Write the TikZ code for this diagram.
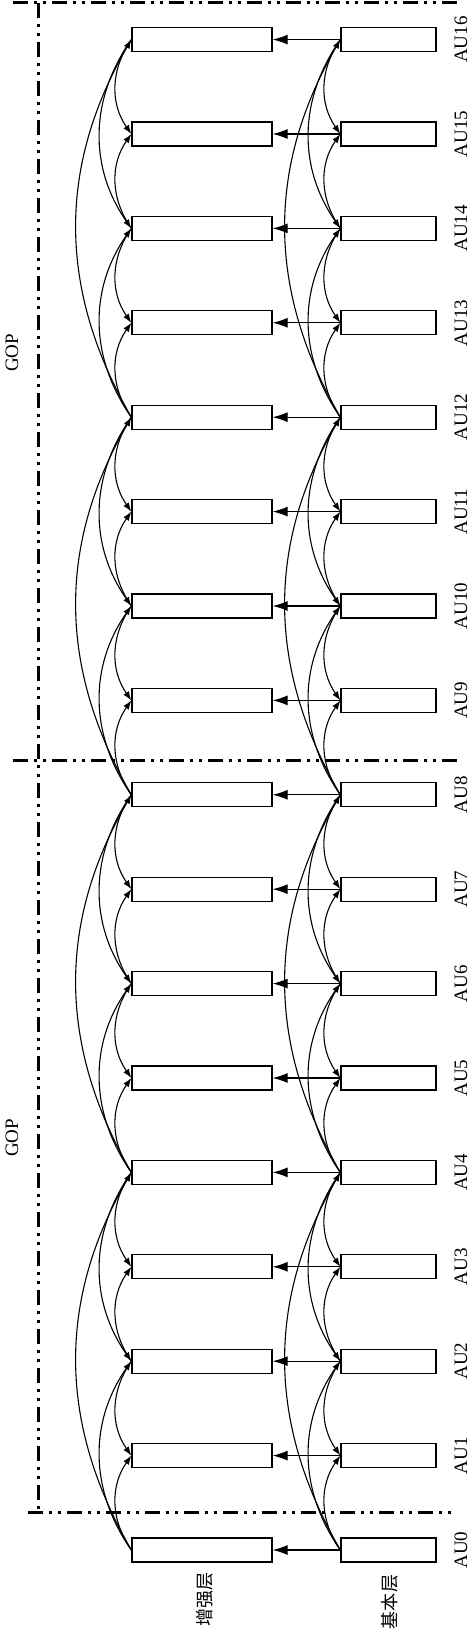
\documentclass[tikz,border=0pt]{standalone}
\usepackage{fontspec}
\setmainfont{Liberation Serif}
\newfontfamily\cjk{Noto Sans CJK SC}
\usetikzlibrary{arrows.meta}
\begin{document}
\begin{tikzpicture}[x=1pt,y=1pt,
  enh/.style={draw, line width=1.3pt, minimum width=140pt, minimum height=24pt, inner sep=0pt},
  bas/.style={draw, line width=1.3pt, minimum width=95pt, minimum height=24pt, inner sep=0pt},
  harrow/.style={line width=1.1pt, -{Latex[length=15pt,width=10pt]}},
  carrow/.style={line width=1.1pt, -{Latex[length=9pt,width=6.5pt]}},
  gopline/.style={line width=3pt, dash pattern=on 15pt off 6pt on 3pt off 6pt on 3pt off 6pt},
  lab/.style={font=\fontsize{19}{21}\selectfont, rotate=90, inner sep=0pt},
  cjklab/.style={font=\cjk\fontsize{18}{20}\selectfont, rotate=90, inner sep=0pt}]
\useasboundingbox (0,0) rectangle (474,1633);
\foreach \k in {0,...,16}{
  \pgfmathsetmacro\yy{83+94.4*\k}
  \node[enh] (e\k) at (202,\yy) {};
  \node[bas] (b\k) at (388.5,\yy) {};
  \node[lab] (l\k) at (461,\yy) {AU\k};
  \draw[harrow] (b\k.west) -- (e\k.east);
}
\foreach \ly in {e,b}{
  \foreach \p/\q in {0/4,4/8,8/12,12/16}
    \draw[carrow] (\ly\p.west) to[bend left=30] (\ly\q.west);
  \foreach \p/\q in {0/2,4/6,8/10,12/14}
    \draw[carrow] (\ly\p.west) to[bend left=35] (\ly\q.west);
  \foreach \p/\q in {4/2,8/6,12/10,16/14}
    \draw[carrow] (\ly\p.west) to[bend right=35] (\ly\q.west);
  \foreach \p in {0,2,...,14}{
    \pgfmathtruncatemacro\q{\p+1}
    \draw[carrow] (\ly\p.west) to[bend left=35] (\ly\q.west);
  }
  \foreach \p in {2,4,...,16}{
    \pgfmathtruncatemacro\q{\p-1}
    \draw[carrow] (\ly\p.west) to[bend right=35] (\ly\q.west);
  }
}
\draw[gopline] (13,1630) -- (462,1630);
\draw[gopline] (38,1630) -- (38,120);
\draw[gopline] (28,120) -- (456,120);
\draw[gopline] (13,872) -- (462,872);
\node[lab] (gop1) at (12,1280) {GOP};
\node[lab] (gop2) at (12,495) {GOP};
\node[cjklab] (enhlab) at (205,33) {增强层};
\node[cjklab] (baslab) at (390,31) {基本层};
\end{tikzpicture}
\end{document}
